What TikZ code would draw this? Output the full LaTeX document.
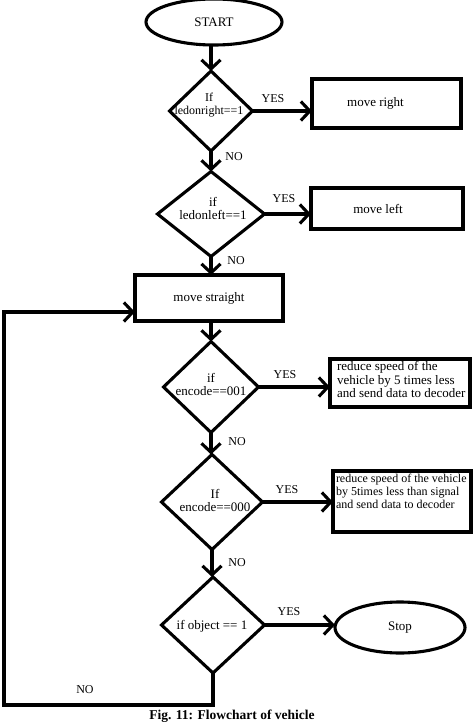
\documentclass[tikz,border=0pt]{standalone}
\usepackage{fontspec}
\setmainfont{Liberation Serif}
\usetikzlibrary{shapes.geometric,arrows.meta}
\begin{document}
\begin{tikzpicture}[x=1pt,y=-1pt,
  every node/.style={inner sep=0pt, outer sep=0pt},
  ln/.style={line width=3.1pt},
  arr/.style={ln, -{Straight Barb[length=9pt,width=19pt]}},
  dia/.style={draw, diamond, line width=3.1pt},
  box/.style={draw, rectangle, line width=3.3pt, font=\fontsize{13}{14}\selectfont},
  term/.style={draw, ellipse, line width=3.1pt, font=\fontsize{13}{14}\selectfont},
  txt/.style={font=\fontsize{13}{14}\selectfont, align=center},
  btxt/.style={align=left, anchor=north west},
  lab/.style={font=\fontsize{12}{13}\selectfont},
  captxt/.style={font=\bfseries\fontsize{13.5}{14}\selectfont}
]
\useasboundingbox (0,0) rectangle (474,723);

% terminators
\node[term, minimum width=136, minimum height=46] (start) at (214,22) {START};
\node[term, minimum width=130, minimum height=51] (stop) at (400,627.5) {Stop};

% decisions
\node[dia, minimum width=83, minimum height=80] (d1) at (211,111) {};
\node[txt, font=\fontsize{12}{13}\selectfont] (d1t) at (209,105) {If\\[0pt]ledonright==1};
\node[dia, minimum width=107, minimum height=85] (d2) at (211,214) {};
\node[txt] (d2t) at (213,208) {if\\[-1pt]ledonleft==1};
\node[dia, minimum width=95, minimum height=91] (d3) at (211,387) {};
\node[txt] (d3t) at (211,384) {if\\[-1pt]encode==001};
\node[dia, minimum width=101, minimum height=95] (d4) at (212,502) {};
\node[txt] (d4t) at (215,500) {If\\[-1pt]encode==000};
\node[dia, minimum width=103, minimum height=96] (d5) at (213,625) {};
\node[txt] (d5t) at (212,626) {if object == 1};

% process boxes
\node[box, minimum width=149, minimum height=49,
      label={[txt,xshift=-11pt]center:move right}] (right) at (386.5,103.5) {};
\node[box, minimum width=152, minimum height=41,
      label={[txt,xshift=-9pt]center:move left}] (left) at (387,208.5) {};
\node[box, minimum width=148, minimum height=46] (straight) at (209,298) {move straight};
\node[box, minimum width=140, minimum height=48] (b3) at (400,383) {};
\node[btxt, font=\fontsize{13}{13.5}\selectfont] (b3t) at (337,361.5)
  {reduce speed of the\\vehicle by 5 times less\\and send data to decoder};
\node[box, minimum width=138, minimum height=61] (b4) at (402,501.5) {};
\node[btxt, font=\fontsize{12}{13}\selectfont] (b4t) at (336,474)
  {reduce speed of the vehicle\\by 5times less than signal\\and send data to decoder};

% connectors
\draw[arr] (d1.north |- start.south) -- (d1.north);
\draw[arr] (d1.east) -- (d1.east -| right.west);
\draw[arr] (d1.south) -- (d2.north);
\draw[arr] (d2.east) -- (d2.east -| left.west);
\draw[arr] (d2.south) -- (d2.south |- straight.north);
\draw[arr] (d2.south |- straight.south) -- (d3.north);
\draw[arr] (d3.east) -- (d3.east -| b3.west);
\draw[arr] (d3.south) -- (d3.south |- d4.north);
\draw[arr] (d4.east) -- (d4.east -| b4.west);
\draw[arr] (d4.south) -- (d4.south |- d5.north);
\draw[arr] (d5.east) -- (d5.east -| stop.west);
\coordinate (lb) at (4,705);
\coordinate (lt) at (4,312);
\draw[arr] (d5.south) -- (d5.south |- lb) -- (lb) -- (lt) -- (lt -| straight.west);

% labels
\node[lab] (y1) at (273,99) {YES};
\node[lab] (n1) at (234,157) {NO};
\node[lab] (y2) at (284,199) {YES};
\node[lab] (n2) at (236,261) {NO};
\node[lab] (y3) at (285,375) {YES};
\node[lab] (n3) at (237,442) {NO};
\node[lab] (y4) at (287,490) {YES};
\node[lab] (n4) at (237,563) {NO};
\node[lab] (y5) at (289,612) {YES};
\node[lab] (n5) at (85,690) {NO};

% caption
\node[captxt] (caption) at (232,716) {Fig. 11: Flowchart of vehicle};
\end{tikzpicture}
\end{document}
